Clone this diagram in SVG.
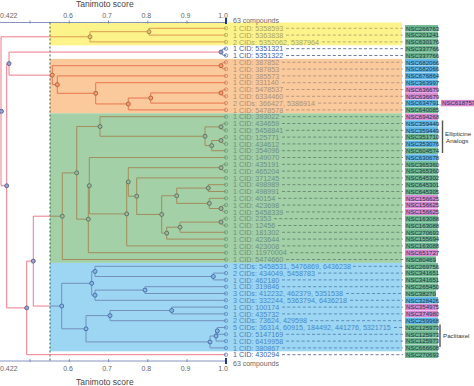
<svg xmlns="http://www.w3.org/2000/svg" width="474" height="386" viewBox="0 0 474 386">
<style>
text{font-family:"Liberation Sans",Arial,sans-serif}
.t{font-size:7.2px}
.nt{font-size:6.1px;fill:#1d3646}
.ax{font-size:7px;fill:#666}
.ttl{font-size:8.5px;fill:#444}
.ann{font-size:6.2px;fill:#333}
.ty{fill:#aaa262}.tw{fill:#4060a8}.to{fill:#ad8f78}.tg{fill:#6d8e84}.tb{fill:#4a86c4}
.d{fill:none;stroke-width:0.8;stroke-dasharray:3 2.2}
.dy{stroke:#a4a070}.dw{stroke:#4a5a88}.do{stroke:#a88e78}.dg{stroke:#5e7e6a}.db{stroke:#4a7aaa}
.bg{fill:#6cb68e}.bb{fill:#5ab3e6}.bp{fill:#d987d2}
.l{fill:none;stroke-width:1}
.r{stroke:#ee7b8a}.y{stroke:#dc9a52}.o{stroke:#ea7650}.g{stroke:#a38c5e}.b{stroke:#7390bb}.wb{stroke:#5a6fb5}
.lc{fill:none;stroke-width:0.8}
.lcy{stroke:#b8a850}.lcw{stroke:#5a6fb5}.lco{stroke:#cf8060}.lcg{stroke:#6a9a7a}.lcb{stroke:#5a88c0}
.n{stroke-width:0.9}
.nr{fill:#9aa0d0;stroke:#5a6090}.ny{fill:#e8c070;stroke:#9a8a40}.no{fill:#f0a070;stroke:#b85a3a}.ng{fill:#9ab89a;stroke:#5a6e60}.nb{fill:#8ab8e0;stroke:#3d6aa8}
</style>
<defs>
<circle id="leaf" r="1.7" cx="226" cy="0"/>
</defs>
<!-- backgrounds -->
<rect x="50" y="22.5" width="352" height="22.8" fill="#fcf38a"/>
<rect x="50" y="58.9" width="352" height="54.4" fill="#fac99c"/>
<rect x="50" y="113.3" width="352" height="149.6" fill="#a3d0a6"/>
<rect x="50" y="262.9" width="352" height="88.4" fill="#9dd6f3"/>
<!-- axes -->
<g id="axis-top">
<text class="ttl" x="76" y="6.5">Tanimoto score</text>
<line x1="0" y1="22.5" x2="226" y2="22.5" stroke="#6878b0" stroke-width="0.8"/>
<path d="M30,20.5V23.5M69.3,20.5V23.5M108.5,20.5V23.5M147.8,20.5V23.5M187,20.5V23.5" stroke="#6878b0" stroke-width="0.8"/>
<rect x="225" y="18" width="2" height="6" fill="#1f3a8a"/>
<text class="ax" x="0" y="17.5">0.422</text>
<text class="ax" x="68" y="17.5" text-anchor="middle">0.6</text>
<text class="ax" x="107" y="17.5" text-anchor="middle">0.7</text>
<text class="ax" x="146.3" y="17.5" text-anchor="middle">0.8</text>
<text class="ax" x="185.5" y="17.5" text-anchor="middle">0.9</text>
<text class="ax" x="223" y="17.5" text-anchor="middle">1.0</text>
<text class="ax" x="233" y="22.5">63 compounds</text>
</g>
<g id="axis-bottom">
<line x1="0" y1="361" x2="226" y2="361" stroke="#6878b0" stroke-width="0.8"/>
<path d="M30,359V362M69.3,359V362M108.5,359V362M147.8,359V362M187,359V362" stroke="#6878b0" stroke-width="0.8"/>
<rect x="225" y="358" width="2" height="6" fill="#1f3a8a"/>
<text class="ax" x="0" y="371">0.422</text>
<text class="ax" x="68" y="371" text-anchor="middle">0.6</text>
<text class="ax" x="107" y="371" text-anchor="middle">0.7</text>
<text class="ax" x="146.3" y="371" text-anchor="middle">0.8</text>
<text class="ax" x="185.5" y="371" text-anchor="middle">0.9</text>
<text class="ax" x="223" y="371" text-anchor="middle">1.0</text>
<text class="ax" x="233" y="366">63 compounds</text>
<text class="ttl" x="76" y="384.5">Tanimoto score</text>
</g>
<line id="cutoff" x1="50" y1="22.5" x2="50" y2="361" stroke="#3a5a50" stroke-width="1" stroke-dasharray="2 2"/>
<!-- connectors -->
<g id="connectors">
<path class="l r" d="M1,36.8V185.75M1,36.8H50M1,185.75H6.7M6.7,63.6V307.9M6.7,63.6H9M9,52.1V75.15M9,52.1H221M9,75.15H50M6.7,307.9H26.7M26.7,261.1V354.7M26.7,261.1H33.3M26.7,354.7H226M33.3,216.2V306.05M33.3,216.2H50M33.3,306.05H50"/>
<path class="l wb" d="M226,48.7Q221,48.7 221,52.1Q221,55.5 226,55.5"/>
<path class="l y" d="M50,36.8H90M90,31.7V41.9M90,31.7H149M90,41.9H226M149,28.3V35.1M149,28.3H226M149,35.1H226"/>
<path class="l o" d="M50,75.15H52.3M52.3,65.7V84.6M52.3,65.7H221M226,62.3Q221,62.3 221,65.7Q221,69.1 226,69.1M52.3,84.6H57.3M57.3,75.9V93.3M57.3,75.9H226M57.3,93.3H95.7M95.7,82.7V103.95M95.7,82.7H226M95.7,103.95H128.3M128.3,98V109.9M128.3,98H150.7M128.3,109.9H226M150.7,92.9V103.1M150.7,92.9H221M226,89.5Q221,89.5 221,92.9Q221,96.3 226,96.3M150.7,103.1H226"/>
<path class="l g" d="M50,216.2H62.3M62.3,172.85V259.5M62.3,172.85H76.7M62.3,259.5H226M76.7,126.5V219.2M76.7,126.5H100M76.7,219.2H88.3M100,116.7V136.25M100,116.7H226M100,136.25H205M205,126.9V145.6M205,126.9H221M226,123.5Q221,123.5 221,126.9Q221,130.3 226,130.3M205,145.6H211.7M211.7,140.5V150.7M211.7,140.5H221M226,137.1Q221,137.1 221,140.5Q221,143.9 226,143.9M211.7,150.7H226M88.3,185.7V252.7M88.3,185.7H89.3M88.3,252.7H226M89.3,157.5V213.9M89.3,157.5H226M89.3,213.9H126.7M126.7,181.95V245.9M126.7,181.95H128.3M126.7,245.9H226M128.3,167.7V196.2M128.3,167.7H221M226,164.3Q221,164.3 221,167.7Q221,171.1 226,171.1M128.3,196.2H136.7M136.7,177.9V214.45M136.7,177.9H226M136.7,214.45H161.7M161.7,195.75V233.15M161.7,195.75H176.7M161.7,233.15H166.7M176.7,188.1V203.4M176.7,188.1H208.3M176.7,203.4H209.3M208.3,184.7V191.5M208.3,184.7H226M208.3,191.5H226M209.3,198.3V208.5M209.3,198.3H226M209.3,208.5H221M226,205.1Q221,205.1 221,208.5Q221,211.9 226,211.9M166.7,227.2V239.1M166.7,227.2H180M166.7,239.1H226M180,222.1V232.3M180,222.1H221M226,218.7Q221,218.7 221,222.1Q221,225.5 226,225.5M180,232.3H226"/>
<path class="l b" d="M50,306.05H61.7M61.7,283.3V328.8M61.7,283.3H91.7M61.7,328.8H86M91.7,271.4V295.2M91.7,271.4H95M91.7,295.2H95M95,266.3V276.5M95,266.3H226M95,276.5H213.3M213.3,273.1V279.9M213.3,273.1H226M213.3,279.9H226M95,290.1V300.3M95,290.1H145M95,300.3H226M145,286.7V293.5M145,286.7H226M145,293.5H226M86,315.6V341.95M86,315.6H110M86,341.95H210M110,310.5V320.7M110,310.5H171.7M110,320.7H226M171.7,307.1V313.9M171.7,307.1H226M171.7,313.9H226M210,336V347.9M210,336H216M210,347.9H226M216,330.9V341.1M216,330.9H217.3M216,341.1H226M217.3,327.5V334.3M217.3,327.5H226M217.3,334.3H226"/>
</g>
<!-- internal nodes -->
<g id="n-root"><circle class="n nr" cx="1.5" cy="111.3" r="2"/></g>
<g id="n-C"><circle class="n nr" cx="6.7" cy="185.75" r="2"/></g>
<g id="n-N9"><circle class="n nr" cx="9" cy="63.6" r="2"/></g>
<g id="n-Bn"><circle class="n nr" cx="26.7" cy="307.9" r="2"/></g>
<g id="n-A"><circle class="n nr" cx="33.3" cy="261.1" r="2"/></g>
<g id="n-W"><circle class="n nr" cx="221" cy="52.1" r="2"/></g>
<g id="n-Y0"><circle class="n ny" cx="90" cy="36.8" r="2"/></g>
<g id="n-Y1"><circle class="n ny" cx="149" cy="31.7" r="2"/></g>
<g id="n-O1"><circle class="n no" cx="52.3" cy="75.15" r="2"/></g>
<g id="n-O2"><circle class="n no" cx="57.3" cy="84.6" r="2"/></g>
<g id="n-O3"><circle class="n no" cx="95.7" cy="93.3" r="2"/></g>
<g id="n-O4"><circle class="n no" cx="128.3" cy="103.95" r="2"/></g>
<g id="n-O5"><circle class="n no" cx="150.7" cy="98" r="2"/></g>
<g id="n-O67"><circle class="n no" cx="221" cy="65.7" r="2"/></g>
<g id="n-O1011"><circle class="n no" cx="221" cy="92.9" r="2"/></g>
<g id="n-G0"><circle class="n ng" cx="62.3" cy="216.2" r="2"/></g>
<g id="n-Gm"><circle class="n ng" cx="76.7" cy="172.85" r="2"/></g>
<g id="n-Gtop"><circle class="n ng" cx="100" cy="126.5" r="2"/></g>
<g id="n-Ga"><circle class="n ng" cx="205" cy="136.25" r="2"/></g>
<g id="n-Gb"><circle class="n ng" cx="211.7" cy="145.6" r="2"/></g>
<g id="n-G1516"><circle class="n ng" cx="221" cy="126.9" r="2"/></g>
<g id="n-G1718"><circle class="n ng" cx="221" cy="140.5" r="2"/></g>
<g id="n-Gl"><circle class="n ng" cx="88.3" cy="219.2" r="2"/></g>
<g id="n-Gk"><circle class="n ng" cx="89.3" cy="185.7" r="2"/></g>
<g id="n-Gj"><circle class="n ng" cx="126.7" cy="213.9" r="2"/></g>
<g id="n-Gi"><circle class="n ng" cx="128.3" cy="181.95" r="2"/></g>
<g id="n-Gh"><circle class="n ng" cx="136.7" cy="196.2" r="2"/></g>
<g id="n-Gg"><circle class="n ng" cx="161.7" cy="214.45" r="2"/></g>
<g id="n-Gd"><circle class="n ng" cx="176.7" cy="195.75" r="2"/></g>
<g id="n-Gc"><circle class="n ng" cx="209.3" cy="203.4" r="2"/></g>
<g id="n-G2425"><circle class="n ng" cx="208.3" cy="188.1" r="2"/></g>
<g id="n-Gf"><circle class="n ng" cx="166.7" cy="233.15" r="2"/></g>
<g id="n-Ge"><circle class="n ng" cx="180" cy="227.2" r="2"/></g>
<g id="n-G2122"><circle class="n ng" cx="221" cy="167.7" r="2"/></g>
<g id="n-G2728"><circle class="n ng" cx="221" cy="208.5" r="2"/></g>
<g id="n-G2930"><circle class="n ng" cx="221" cy="222.1" r="2"/></g>
<g id="n-B0"><circle class="n nb" cx="61.7" cy="306.05" r="2"/></g>
<g id="n-Bc"><circle class="n nb" cx="91.7" cy="283.3" r="2"/></g>
<g id="n-Ba"><circle class="n nb" cx="95" cy="271.4" r="2"/></g>
<g id="n-Bb"><circle class="n nb" cx="95" cy="295.2" r="2"/></g>
<g id="n-B3738"><circle class="n nb" cx="213.3" cy="276.5" r="2"/></g>
<g id="n-B3940"><circle class="n nb" cx="145" cy="290.1" r="2"/></g>
<g id="n-Bg"><circle class="n nb" cx="86" cy="328.8" r="2"/></g>
<g id="n-Bd"><circle class="n nb" cx="110" cy="315.6" r="2"/></g>
<g id="n-B4243"><circle class="n nb" cx="171.7" cy="310.5" r="2"/></g>
<g id="n-Bf"><circle class="n nb" cx="210" cy="341.95" r="2"/></g>
<g id="n-Be"><circle class="n nb" cx="216" cy="336" r="2"/></g>
<g id="n-B4546"><circle class="n nb" cx="217.3" cy="330.9" r="2"/></g>
<!-- leaves -->
<g id="r1" transform="translate(0,28.3)"><use href="#leaf" class="lc lcy"/><text class="t ty" x="233" y="2.6">1 CID: 5358593</text><path class="d dy" d="M286,0H403"/><rect class="bg" x="405" y="-3.2" width="33" height="6.4"/><text class="nt" x="406" y="2.2">NSC266763</text></g>
<g id="r2" transform="translate(0,35.1)"><use href="#leaf" class="lc lcy"/><text class="t ty" x="233" y="2.6">1 CID: 5363838</text><path class="d dy" d="M286,0H403"/><rect class="bg" x="405" y="-3.2" width="33" height="6.4"/><text class="nt" x="406" y="2.2">NSC201241</text></g>
<g id="r3" transform="translate(0,41.9)"><use href="#leaf" class="lc lcy"/><text class="t ty" x="233" y="2.6">2 CIDs: 5352062, 5387964</text><path class="d dy" d="M322,0H403"/><rect class="bg" x="405" y="-3.2" width="33" height="6.4"/><text class="nt" x="406" y="2.2">NSC630176</text></g>
<g id="r4" transform="translate(0,48.7)"><use href="#leaf" class="lc lcw"/><text class="t tw" x="233" y="2.6">1 CID: 5351321</text><path class="d dw" d="M286,0H403"/><rect class="bg" x="405" y="-3.2" width="33" height="6.4"/><text class="nt" x="406" y="2.2">NSC337766</text></g>
<g id="r5" transform="translate(0,55.5)"><use href="#leaf" class="lc lcw"/><text class="t tw" x="233" y="2.6">1 CID: 5351322</text><path class="d dw" d="M286,0H403"/><rect class="bg" x="405" y="-3.2" width="33" height="6.4"/><text class="nt" x="406" y="2.2">NSC337766</text></g>
<g id="r6" transform="translate(0,62.3)"><use href="#leaf" class="lc lco"/><text class="t to" x="233" y="2.6">1 CID: 387852</text><path class="d do" d="M282,0H403"/><rect class="bb" x="405" y="-3.2" width="33" height="6.4"/><text class="nt" x="406" y="2.2">NSC682066</text></g>
<g id="r7" transform="translate(0,69.1)"><use href="#leaf" class="lc lco"/><text class="t to" x="233" y="2.6">1 CID: 387853</text><path class="d do" d="M282,0H403"/><rect class="bb" x="405" y="-3.2" width="33" height="6.4"/><text class="nt" x="406" y="2.2">NSC682066</text></g>
<g id="r8" transform="translate(0,75.9)"><use href="#leaf" class="lc lco"/><text class="t to" x="233" y="2.6">1 CID: 385573</text><path class="d do" d="M282,0H403"/><rect class="bb" x="405" y="-3.2" width="33" height="6.4"/><text class="nt" x="406" y="2.2">NSC676864</text></g>
<g id="r9" transform="translate(0,82.7)"><use href="#leaf" class="lc lco"/><text class="t to" x="233" y="2.6">1 CID: 331140</text><path class="d do" d="M282,0H403"/><rect class="bb" x="405" y="-3.2" width="33" height="6.4"/><text class="nt" x="406" y="2.2">NSC363997</text></g>
<g id="r10" transform="translate(0,89.5)"><use href="#leaf" class="lc lco"/><text class="t to" x="233" y="2.6">1 CID: 5478537</text><path class="d do" d="M286,0H403"/><rect class="bp" x="405" y="-3.2" width="33" height="6.4"/><text class="nt" x="406" y="2.2">NSC636679</text></g>
<g id="r11" transform="translate(0,96.3)"><use href="#leaf" class="lc lco"/><text class="t to" x="233" y="2.6">1 CID: 6334460</text><path class="d do" d="M286,0H403"/><rect class="bp" x="405" y="-3.2" width="33" height="6.4"/><text class="nt" x="406" y="2.2">NSC636679</text></g>
<g id="r12" transform="translate(0,103.1)"><use href="#leaf" class="lc lco"/><text class="t to" x="233" y="2.6">2 CIDs: 366427, 5386914</text><path class="d do" d="M318,0H403"/><rect class="bb" x="405" y="-3.2" width="33" height="6.4"/><text class="nt" x="406" y="2.2">NSC634791,</text><rect class="bp" x="441" y="-3.2" width="33" height="6.4"/><text class="nt" x="442" y="2.2">NSC618757</text></g>
<g id="r13" transform="translate(0,109.9)"><use href="#leaf" class="lc lco"/><text class="t to" x="233" y="2.6">1 CID: 5478578</text><path class="d do" d="M286,0H403"/><rect class="bg" x="405" y="-3.2" width="33" height="6.4"/><text class="nt" x="406" y="2.2">NSC640085</text></g>
<g id="r14" transform="translate(0,116.7)"><use href="#leaf" class="lc lcg"/><text class="t tg" x="233" y="2.6">1 CID: 393022</text><path class="d dg" d="M282,0H403"/><rect class="bp" x="405" y="-3.2" width="33" height="6.4"/><text class="nt" x="406" y="2.2">NSC694268</text></g>
<g id="r15" transform="translate(0,123.5)"><use href="#leaf" class="lc lcg"/><text class="t tg" x="233" y="2.6">1 CID: 434659</text><path class="d dg" d="M282,0H403"/><rect class="bb" x="405" y="-3.2" width="33" height="6.4"/><text class="nt" x="406" y="2.2">NSC359449</text></g>
<g id="r16" transform="translate(0,130.3)"><use href="#leaf" class="lc lcg"/><text class="t tg" x="233" y="2.6">1 CID: 5458841</text><path class="d dg" d="M286,0H403"/><rect class="bb" x="405" y="-3.2" width="33" height="6.4"/><text class="nt" x="406" y="2.2">NSC359449</text></g>
<g id="r17" transform="translate(0,137.1)"><use href="#leaf" class="lc lcg"/><text class="t tg" x="233" y="2.6">1 CID: 125771</text><path class="d dg" d="M282,0H403"/><rect class="bg" x="405" y="-3.2" width="33" height="6.4"/><text class="nt" x="406" y="2.2">NSC351710</text></g>
<g id="r18" transform="translate(0,143.9)"><use href="#leaf" class="lc lcg"/><text class="t tg" x="233" y="2.6">1 CID: 434612</text><path class="d dg" d="M282,0H403"/><rect class="bb" x="405" y="-3.2" width="33" height="6.4"/><text class="nt" x="406" y="2.2">NSC353076</text></g>
<g id="r19" transform="translate(0,150.7)"><use href="#leaf" class="lc lcg"/><text class="t tg" x="233" y="2.6">1 CID: 354096</text><path class="d dg" d="M282,0H403"/><rect class="bg" x="405" y="-3.2" width="33" height="6.4"/><text class="nt" x="406" y="2.2">NSC604574</text></g>
<g id="r20" transform="translate(0,157.5)"><use href="#leaf" class="lc lcg"/><text class="t tg" x="233" y="2.6">1 CID: 149070</text><path class="d dg" d="M282,0H403"/><rect class="bb" x="405" y="-3.2" width="33" height="6.4"/><text class="nt" x="406" y="2.2">NSC630678</text></g>
<g id="r21" transform="translate(0,164.3)"><use href="#leaf" class="lc lcg"/><text class="t tg" x="233" y="2.6">1 CID: 435191</text><path class="d dg" d="M282,0H403"/><rect class="bg" x="405" y="-3.2" width="33" height="6.4"/><text class="nt" x="406" y="2.2">NSC365360</text></g>
<g id="r22" transform="translate(0,171.1)"><use href="#leaf" class="lc lcg"/><text class="t tg" x="233" y="2.6">1 CID: 465204</text><path class="d dg" d="M282,0H403"/><rect class="bg" x="405" y="-3.2" width="33" height="6.4"/><text class="nt" x="406" y="2.2">NSC365360</text></g>
<g id="r23" transform="translate(0,177.9)"><use href="#leaf" class="lc lcg"/><text class="t tg" x="233" y="2.6">1 CID: 371245</text><path class="d dg" d="M282,0H403"/><rect class="bg" x="405" y="-3.2" width="33" height="6.4"/><text class="nt" x="406" y="2.2">NSC645302</text></g>
<g id="r24" transform="translate(0,184.7)"><use href="#leaf" class="lc lcg"/><text class="t tg" x="233" y="2.6">1 CID: 498989</text><path class="d dg" d="M282,0H403"/><rect class="bg" x="405" y="-3.2" width="33" height="6.4"/><text class="nt" x="406" y="2.2">NSC645301</text></g>
<g id="r25" transform="translate(0,191.5)"><use href="#leaf" class="lc lcg"/><text class="t tg" x="233" y="2.6">1 CID: 498991</text><path class="d dg" d="M282,0H403"/><rect class="bg" x="405" y="-3.2" width="33" height="6.4"/><text class="nt" x="406" y="2.2">NSC645305</text></g>
<g id="r26" transform="translate(0,198.3)"><use href="#leaf" class="lc lcg"/><text class="t tg" x="233" y="2.6">1 CID: 40154</text><path class="d dg" d="M278,0H403"/><rect class="bp" x="405" y="-3.2" width="33" height="6.4"/><text class="nt" x="406" y="2.2">NSC156625</text></g>
<g id="r27" transform="translate(0,205.1)"><use href="#leaf" class="lc lcg"/><text class="t tg" x="233" y="2.6">1 CID: 423698</text><path class="d dg" d="M282,0H403"/><rect class="bp" x="405" y="-3.2" width="33" height="6.4"/><text class="nt" x="406" y="2.2">NSC156625</text></g>
<g id="r28" transform="translate(0,211.9)"><use href="#leaf" class="lc lcg"/><text class="t tg" x="233" y="2.6">1 CID: 5458339</text><path class="d dg" d="M286,0H403"/><rect class="bp" x="405" y="-3.2" width="33" height="6.4"/><text class="nt" x="406" y="2.2">NSC156625</text></g>
<g id="r29" transform="translate(0,218.7)"><use href="#leaf" class="lc lcg"/><text class="t tg" x="233" y="2.6">1 CID: 2353</text><path class="d dg" d="M274,0H403"/><rect class="bg" x="405" y="-3.2" width="33" height="6.4"/><text class="nt" x="406" y="2.2">NSC163088</text></g>
<g id="r30" transform="translate(0,225.5)"><use href="#leaf" class="lc lcg"/><text class="t tg" x="233" y="2.6">1 CID: 12456</text><path class="d dg" d="M278,0H403"/><rect class="bg" x="405" y="-3.2" width="33" height="6.4"/><text class="nt" x="406" y="2.2">NSC163088</text></g>
<g id="r31" transform="translate(0,232.3)"><use href="#leaf" class="lc lcg"/><text class="t tg" x="233" y="2.6">1 CID: 181302</text><path class="d dg" d="M282,0H403"/><rect class="bg" x="405" y="-3.2" width="33" height="6.4"/><text class="nt" x="406" y="2.2">NSC270693</text></g>
<g id="r32" transform="translate(0,239.1)"><use href="#leaf" class="lc lcg"/><text class="t tg" x="233" y="2.6">1 CID: 423644</text><path class="d dg" d="M282,0H403"/><rect class="bg" x="405" y="-3.2" width="33" height="6.4"/><text class="nt" x="406" y="2.2">NSC155694</text></g>
<g id="r33" transform="translate(0,245.9)"><use href="#leaf" class="lc lcg"/><text class="t tg" x="233" y="2.6">1 CID: 423008</text><path class="d dg" d="M282,0H403"/><rect class="bg" x="405" y="-3.2" width="33" height="6.4"/><text class="nt" x="406" y="2.2">NSC163088</text></g>
<g id="r34" transform="translate(0,252.7)"><use href="#leaf" class="lc lcg"/><text class="t tg" x="233" y="2.6">1 CID: 11970004</text><path class="d dg" d="M290,0H403"/><rect class="bp" x="405" y="-3.2" width="33" height="6.4"/><text class="nt" x="406" y="2.2">NSC651727</text></g>
<g id="r35" transform="translate(0,259.5)"><use href="#leaf" class="lc lcg"/><text class="t tg" x="233" y="2.6">1 CID: 5474660</text><path class="d dg" d="M286,0H403"/><rect class="bg" x="405" y="-3.2" width="31" height="6.4"/><text class="nt" x="406" y="2.2">NSC80469</text></g>
<g id="r36" transform="translate(0,266.3)"><use href="#leaf" class="lc lcb"/><text class="t tb" x="233" y="2.6">3 CIDs: 5458531, 5476869, 6436238</text><path class="d db" d="M353,0H403"/><rect class="bg" x="405" y="-3.2" width="33" height="6.4"/><text class="nt" x="406" y="2.2">NSC269756</text></g>
<g id="r37" transform="translate(0,273.1)"><use href="#leaf" class="lc lcb"/><text class="t tb" x="233" y="2.6">2 CIDs: 434049, 5458783</text><path class="d db" d="M318,0H403"/><rect class="bg" x="405" y="-3.2" width="33" height="6.4"/><text class="nt" x="406" y="2.2">NSC341651</text></g>
<g id="r38" transform="translate(0,279.9)"><use href="#leaf" class="lc lcb"/><text class="t tb" x="233" y="2.6">1 CID: 462180</text><path class="d db" d="M282,0H403"/><rect class="bg" x="405" y="-3.2" width="33" height="6.4"/><text class="nt" x="406" y="2.2">NSC341651</text></g>
<g id="r39" transform="translate(0,286.7)"><use href="#leaf" class="lc lcb"/><text class="t tb" x="233" y="2.6">1 CID: 319846</text><path class="d db" d="M282,0H403"/><rect class="bg" x="405" y="-3.2" width="33" height="6.4"/><text class="nt" x="406" y="2.2">NSC265450</text></g>
<g id="r40" transform="translate(0,293.5)"><use href="#leaf" class="lc lcb"/><text class="t tb" x="233" y="2.6">3 CIDs: 412232, 462379, 5351538</text><path class="d db" d="M346,0H403"/><rect class="bg" x="405" y="-3.2" width="31" height="6.4"/><text class="nt" x="406" y="2.2">NSC38270</text></g>
<g id="r41" transform="translate(0,300.3)"><use href="#leaf" class="lc lcb"/><text class="t tb" x="233" y="2.6">3 CIDs: 332244, 5363794, 6436218</text><path class="d db" d="M350,0H403"/><rect class="bb" x="405" y="-3.2" width="33" height="6.4"/><text class="nt" x="406" y="2.2">NSC328426</text></g>
<g id="r42" transform="translate(0,307.1)"><use href="#leaf" class="lc lcb"/><text class="t tb" x="233" y="2.6">1 CID: 100174</text><path class="d db" d="M282,0H403"/><rect class="bp" x="405" y="-3.2" width="33" height="6.4"/><text class="nt" x="406" y="2.2">NSC354975</text></g>
<g id="r43" transform="translate(0,313.9)"><use href="#leaf" class="lc lcb"/><text class="t tb" x="233" y="2.6">1 CID: 435732</text><path class="d db" d="M282,0H403"/><rect class="bp" x="405" y="-3.2" width="33" height="6.4"/><text class="nt" x="406" y="2.2">NSC374980</text></g>
<g id="r44" transform="translate(0,320.7)"><use href="#leaf" class="lc lcb"/><text class="t tb" x="233" y="2.6">2 CIDs: 73624, 429598</text><path class="d db" d="M310,0H403"/><rect class="bb" x="405" y="-3.2" width="33" height="6.4"/><text class="nt" x="406" y="2.2">NSC259968</text></g>
<g id="r45" transform="translate(0,327.5)"><use href="#leaf" class="lc lcb"/><text class="t tb" x="233" y="2.6">5 CIDs: 36314, 60915, 184492, 441276, 5321715</text><path class="d db" d="M394,0H403"/><rect class="bg" x="405" y="-3.2" width="33" height="6.4"/><text class="nt" x="406" y="2.2">NSC125973</text></g>
<g id="r46" transform="translate(0,334.3)"><use href="#leaf" class="lc lcb"/><text class="t tb" x="233" y="2.6">1 CID: 5147169</text><path class="d db" d="M286,0H403"/><rect class="bg" x="405" y="-3.2" width="33" height="6.4"/><text class="nt" x="406" y="2.2">NSC125973</text></g>
<g id="r47" transform="translate(0,341.1)"><use href="#leaf" class="lc lcb"/><text class="t tb" x="233" y="2.6">1 CID: 6419958</text><path class="d db" d="M286,0H403"/><rect class="bg" x="405" y="-3.2" width="33" height="6.4"/><text class="nt" x="406" y="2.2">NSC125973</text></g>
<g id="r48" transform="translate(0,347.9)"><use href="#leaf" class="lc lcb"/><text class="t tb" x="233" y="2.6">1 CID: 380867</text><path class="d db" d="M282,0H403"/><rect class="bg" x="405" y="-3.2" width="33" height="6.4"/><text class="nt" x="406" y="2.2">NSC666608</text></g>
<g id="r49" transform="translate(0,354.7)"><use href="#leaf" class="lc lcw"/><text class="t tw" x="233" y="2.6">1 CID: 430294</text><path class="d dw" d="M282,0H403"/><rect class="bg" x="405" y="-3.2" width="33" height="6.4"/><text class="nt" x="406" y="2.2">NSC270693</text></g>
<!-- annotations -->
<g id="ellipticine">
<line x1="442.5" y1="120.5" x2="442.5" y2="153" stroke="#555" stroke-width="1.4"/>
<text class="ann" x="445" y="135.5">Ellipticine</text>
<text class="ann" x="446" y="143">Analogs</text>
</g>
<g id="paclitaxel">
<line x1="440" y1="324.5" x2="440" y2="347" stroke="#555" stroke-width="1.4"/>
<text class="ann" x="443" y="337.5">Paclitaxel</text>
</g>
</svg>
